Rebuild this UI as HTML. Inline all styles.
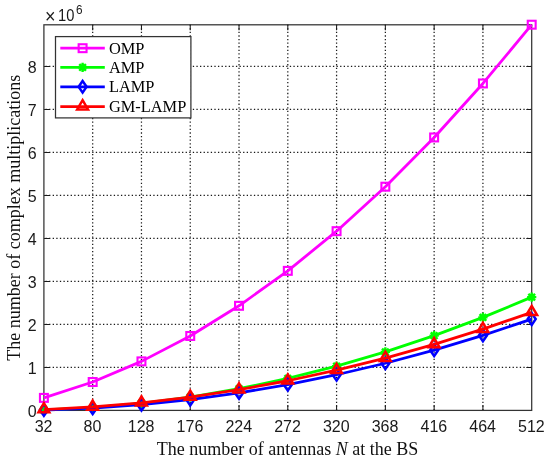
<!DOCTYPE html><html><head><meta charset="utf-8"><style>html,body{margin:0;padding:0;background:#fff;}svg{display:block;}</style></head><body>
<svg width="550" height="459" viewBox="0 0 550 459">
<rect x="0" y="0" width="550" height="459" fill="#fff"/>
<g stroke="#1a1a1a" stroke-width="1.25" stroke-dasharray="1.3 2.293" fill="none"><line x1="92.68" y1="24.56" x2="92.68" y2="410.40"/><line x1="141.46" y1="24.56" x2="141.46" y2="410.40"/><line x1="190.24" y1="24.56" x2="190.24" y2="410.40"/><line x1="239.02" y1="24.56" x2="239.02" y2="410.40"/><line x1="287.80" y1="24.56" x2="287.80" y2="410.40"/><line x1="336.58" y1="24.56" x2="336.58" y2="410.40"/><line x1="385.36" y1="24.56" x2="385.36" y2="410.40"/><line x1="434.14" y1="24.56" x2="434.14" y2="410.40"/><line x1="482.92" y1="24.56" x2="482.92" y2="410.40"/><line x1="45.50" y1="367.41" x2="531.70" y2="367.41"/><line x1="45.50" y1="324.42" x2="531.70" y2="324.42"/><line x1="45.50" y1="281.43" x2="531.70" y2="281.43"/><line x1="45.50" y1="238.44" x2="531.70" y2="238.44"/><line x1="45.50" y1="195.45" x2="531.70" y2="195.45"/><line x1="45.50" y1="152.46" x2="531.70" y2="152.46"/><line x1="45.50" y1="109.47" x2="531.70" y2="109.47"/><line x1="45.50" y1="66.48" x2="531.70" y2="66.48"/></g>
<path d="M92.68 410.40V405.00M92.68 24.80V30.20M141.46 410.40V405.00M141.46 24.80V30.20M190.24 410.40V405.00M190.24 24.80V30.20M239.02 410.40V405.00M239.02 24.80V30.20M287.80 410.40V405.00M287.80 24.80V30.20M336.58 410.40V405.00M336.58 24.80V30.20M385.36 410.40V405.00M385.36 24.80V30.20M434.14 410.40V405.00M434.14 24.80V30.20M482.92 410.40V405.00M482.92 24.80V30.20M43.90 367.41H49.90M531.70 367.41H526.30M43.90 324.42H49.90M531.70 324.42H526.30M43.90 281.43H49.90M531.70 281.43H526.30M43.90 238.44H49.90M531.70 238.44H526.30M43.90 195.45H49.90M531.70 195.45H526.30M43.90 152.46H49.90M531.70 152.46H526.30M43.90 109.47H49.90M531.70 109.47H526.30M43.90 66.48H49.90M531.70 66.48H526.30" stroke="#1a1a1a" stroke-width="1.05" fill="none"/>
<rect x="43.90" y="24.80" width="487.80" height="385.60" stroke="#333" stroke-width="1.25" fill="none"/>
<polyline points="43.90,397.89 92.68,382.02 141.46,361.38 190.24,335.97 239.02,305.80 287.80,270.86 336.58,231.16 385.36,186.69 434.14,137.46 482.92,83.46 531.70,24.70" stroke="#ff00ff" stroke-width="2.8" fill="none" stroke-linejoin="round"/>
<rect x="39.95" y="393.94" width="7.90" height="7.90" stroke="#ff00ff" stroke-width="2.1" fill="none"/><rect x="88.73" y="378.07" width="7.90" height="7.90" stroke="#ff00ff" stroke-width="2.1" fill="none"/><rect x="137.51" y="357.43" width="7.90" height="7.90" stroke="#ff00ff" stroke-width="2.1" fill="none"/><rect x="186.29" y="332.02" width="7.90" height="7.90" stroke="#ff00ff" stroke-width="2.1" fill="none"/><rect x="235.07" y="301.85" width="7.90" height="7.90" stroke="#ff00ff" stroke-width="2.1" fill="none"/><rect x="283.85" y="266.91" width="7.90" height="7.90" stroke="#ff00ff" stroke-width="2.1" fill="none"/><rect x="332.63" y="227.21" width="7.90" height="7.90" stroke="#ff00ff" stroke-width="2.1" fill="none"/><rect x="381.41" y="182.74" width="7.90" height="7.90" stroke="#ff00ff" stroke-width="2.1" fill="none"/><rect x="430.19" y="133.51" width="7.90" height="7.90" stroke="#ff00ff" stroke-width="2.1" fill="none"/><rect x="478.97" y="79.51" width="7.90" height="7.90" stroke="#ff00ff" stroke-width="2.1" fill="none"/><rect x="527.75" y="20.75" width="7.90" height="7.90" stroke="#ff00ff" stroke-width="2.1" fill="none"/>
<polyline points="43.90,409.96 92.68,407.63 141.46,403.32 190.24,397.02 239.02,388.72 287.80,378.44 336.58,366.16 385.36,351.89 434.14,335.63 482.92,317.38 531.70,297.14" stroke="#00ff00" stroke-width="2.8" fill="none" stroke-linejoin="round"/>
<path d="M43.90 406.56V413.36M40.50 409.96H47.30M41.40 407.46L46.40 412.46M41.40 412.46L46.40 407.46" stroke="#00ff00" stroke-width="2.4" fill="none" stroke-linecap="square"/><path d="M92.68 404.23V411.03M89.28 407.63H96.08M90.18 405.13L95.18 410.13M90.18 410.13L95.18 405.13" stroke="#00ff00" stroke-width="2.4" fill="none" stroke-linecap="square"/><path d="M141.46 399.92V406.72M138.06 403.32H144.86M138.96 400.82L143.96 405.82M138.96 405.82L143.96 400.82" stroke="#00ff00" stroke-width="2.4" fill="none" stroke-linecap="square"/><path d="M190.24 393.62V400.42M186.84 397.02H193.64M187.74 394.52L192.74 399.52M187.74 399.52L192.74 394.52" stroke="#00ff00" stroke-width="2.4" fill="none" stroke-linecap="square"/><path d="M239.02 385.32V392.12M235.62 388.72H242.42M236.52 386.22L241.52 391.22M236.52 391.22L241.52 386.22" stroke="#00ff00" stroke-width="2.4" fill="none" stroke-linecap="square"/><path d="M287.80 375.04V381.84M284.40 378.44H291.20M285.30 375.94L290.30 380.94M285.30 380.94L290.30 375.94" stroke="#00ff00" stroke-width="2.4" fill="none" stroke-linecap="square"/><path d="M336.58 362.76V369.56M333.18 366.16H339.98M334.08 363.66L339.08 368.66M334.08 368.66L339.08 363.66" stroke="#00ff00" stroke-width="2.4" fill="none" stroke-linecap="square"/><path d="M385.36 348.49V355.29M381.96 351.89H388.76M382.86 349.39L387.86 354.39M382.86 354.39L387.86 349.39" stroke="#00ff00" stroke-width="2.4" fill="none" stroke-linecap="square"/><path d="M434.14 332.23V339.03M430.74 335.63H437.54M431.64 333.13L436.64 338.13M431.64 338.13L436.64 333.13" stroke="#00ff00" stroke-width="2.4" fill="none" stroke-linecap="square"/><path d="M482.92 313.98V320.78M479.52 317.38H486.32M480.42 314.88L485.42 319.88M480.42 319.88L485.42 314.88" stroke="#00ff00" stroke-width="2.4" fill="none" stroke-linecap="square"/><path d="M531.70 293.74V300.54M528.30 297.14H535.10M529.20 294.64L534.20 299.64M529.20 299.64L534.20 294.64" stroke="#00ff00" stroke-width="2.4" fill="none" stroke-linecap="square"/>
<polyline points="43.90,410.04 92.68,408.17 141.46,404.69 190.24,399.61 239.02,392.93 287.80,384.64 336.58,374.74 385.36,363.24 434.14,350.14 482.92,335.43 531.70,319.12" stroke="#0000ff" stroke-width="2.8" fill="none" stroke-linejoin="round"/>
<path d="M43.90 404.19L47.90 410.04L43.90 415.89L39.90 410.04Z" stroke="#0000ff" stroke-width="2.5" fill="none" stroke-linejoin="miter" stroke-miterlimit="10"/><path d="M92.68 402.32L96.68 408.17L92.68 414.02L88.68 408.17Z" stroke="#0000ff" stroke-width="2.5" fill="none" stroke-linejoin="miter" stroke-miterlimit="10"/><path d="M141.46 398.84L145.46 404.69L141.46 410.54L137.46 404.69Z" stroke="#0000ff" stroke-width="2.5" fill="none" stroke-linejoin="miter" stroke-miterlimit="10"/><path d="M190.24 393.76L194.24 399.61L190.24 405.46L186.24 399.61Z" stroke="#0000ff" stroke-width="2.5" fill="none" stroke-linejoin="miter" stroke-miterlimit="10"/><path d="M239.02 387.08L243.02 392.93L239.02 398.78L235.02 392.93Z" stroke="#0000ff" stroke-width="2.5" fill="none" stroke-linejoin="miter" stroke-miterlimit="10"/><path d="M287.80 378.79L291.80 384.64L287.80 390.49L283.80 384.64Z" stroke="#0000ff" stroke-width="2.5" fill="none" stroke-linejoin="miter" stroke-miterlimit="10"/><path d="M336.58 368.89L340.58 374.74L336.58 380.59L332.58 374.74Z" stroke="#0000ff" stroke-width="2.5" fill="none" stroke-linejoin="miter" stroke-miterlimit="10"/><path d="M385.36 357.39L389.36 363.24L385.36 369.09L381.36 363.24Z" stroke="#0000ff" stroke-width="2.5" fill="none" stroke-linejoin="miter" stroke-miterlimit="10"/><path d="M434.14 344.29L438.14 350.14L434.14 355.99L430.14 350.14Z" stroke="#0000ff" stroke-width="2.5" fill="none" stroke-linejoin="miter" stroke-miterlimit="10"/><path d="M482.92 329.58L486.92 335.43L482.92 341.28L478.92 335.43Z" stroke="#0000ff" stroke-width="2.5" fill="none" stroke-linejoin="miter" stroke-miterlimit="10"/><path d="M531.70 313.27L535.70 319.12L531.70 324.97L527.70 319.12Z" stroke="#0000ff" stroke-width="2.5" fill="none" stroke-linejoin="miter" stroke-miterlimit="10"/>
<polyline points="43.90,409.55 92.68,406.96 141.46,402.78 190.24,397.02 239.02,389.68 287.80,380.75 336.58,370.23 385.36,358.13 434.14,344.44 482.92,329.17 531.70,312.32" stroke="#ff0000" stroke-width="2.8" fill="none" stroke-linejoin="round"/>
<path d="M43.90 403.15L49.30 412.35L38.50 412.35Z" stroke="#ff0000" stroke-width="2.5" fill="none" stroke-linejoin="miter" stroke-miterlimit="10"/><path d="M92.68 400.56L98.08 409.76L87.28 409.76Z" stroke="#ff0000" stroke-width="2.5" fill="none" stroke-linejoin="miter" stroke-miterlimit="10"/><path d="M141.46 396.38L146.86 405.58L136.06 405.58Z" stroke="#ff0000" stroke-width="2.5" fill="none" stroke-linejoin="miter" stroke-miterlimit="10"/><path d="M190.24 390.62L195.64 399.82L184.84 399.82Z" stroke="#ff0000" stroke-width="2.5" fill="none" stroke-linejoin="miter" stroke-miterlimit="10"/><path d="M239.02 383.28L244.42 392.48L233.62 392.48Z" stroke="#ff0000" stroke-width="2.5" fill="none" stroke-linejoin="miter" stroke-miterlimit="10"/><path d="M287.80 374.35L293.20 383.55L282.40 383.55Z" stroke="#ff0000" stroke-width="2.5" fill="none" stroke-linejoin="miter" stroke-miterlimit="10"/><path d="M336.58 363.83L341.98 373.03L331.18 373.03Z" stroke="#ff0000" stroke-width="2.5" fill="none" stroke-linejoin="miter" stroke-miterlimit="10"/><path d="M385.36 351.73L390.76 360.93L379.96 360.93Z" stroke="#ff0000" stroke-width="2.5" fill="none" stroke-linejoin="miter" stroke-miterlimit="10"/><path d="M434.14 338.04L439.54 347.24L428.74 347.24Z" stroke="#ff0000" stroke-width="2.5" fill="none" stroke-linejoin="miter" stroke-miterlimit="10"/><path d="M482.92 322.77L488.32 331.97L477.52 331.97Z" stroke="#ff0000" stroke-width="2.5" fill="none" stroke-linejoin="miter" stroke-miterlimit="10"/><path d="M531.70 305.92L537.10 315.12L526.30 315.12Z" stroke="#ff0000" stroke-width="2.5" fill="none" stroke-linejoin="miter" stroke-miterlimit="10"/>
<rect x="55.5" y="36.6" width="135.40" height="81.30" fill="#fff" stroke="#333" stroke-width="1.25"/>
<line x1="60.3" y1="48.2" x2="104.8" y2="48.2" stroke="#ff00ff" stroke-width="2.8"/>
<rect x="78.65" y="44.25" width="7.90" height="7.90" stroke="#ff00ff" stroke-width="2.1" fill="none"/>
<text x="108.9" y="53.70" font-family="Liberation Serif, serif" font-size="16.4" fill="#000">OMP</text>
<line x1="60.3" y1="67.4" x2="104.8" y2="67.4" stroke="#00ff00" stroke-width="2.8"/>
<path d="M82.60 64.00V70.80M79.20 67.40H86.00M80.10 64.90L85.10 69.90M80.10 69.90L85.10 64.90" stroke="#00ff00" stroke-width="2.4" fill="none" stroke-linecap="square"/>
<text x="108.9" y="72.90" font-family="Liberation Serif, serif" font-size="16.4" fill="#000">AMP</text>
<line x1="60.3" y1="86.8" x2="104.8" y2="86.8" stroke="#0000ff" stroke-width="2.8"/>
<path d="M82.60 80.95L86.60 86.80L82.60 92.65L78.60 86.80Z" stroke="#0000ff" stroke-width="2.5" fill="none" stroke-linejoin="miter" stroke-miterlimit="10"/>
<text x="108.9" y="92.30" font-family="Liberation Serif, serif" font-size="16.4" fill="#000">LAMP</text>
<line x1="60.3" y1="106.6" x2="104.8" y2="106.6" stroke="#ff0000" stroke-width="2.8"/>
<path d="M82.60 100.20L88.00 109.40L77.20 109.40Z" stroke="#ff0000" stroke-width="2.5" fill="none" stroke-linejoin="miter" stroke-miterlimit="10"/>
<text x="108.9" y="112.10" font-family="Liberation Serif, serif" font-size="16.4" fill="#000">GM-LAMP</text>
<text transform="translate(43.60,432) scale(1,1.0)" text-anchor="middle" font-family="Liberation Sans, sans-serif" font-size="16" fill="#1a1a1a">32</text>
<text transform="translate(92.38,432) scale(1,1.0)" text-anchor="middle" font-family="Liberation Sans, sans-serif" font-size="16" fill="#1a1a1a">80</text>
<text transform="translate(141.16,432) scale(1,1.0)" text-anchor="middle" font-family="Liberation Sans, sans-serif" font-size="16" fill="#1a1a1a">128</text>
<text transform="translate(189.94,432) scale(1,1.0)" text-anchor="middle" font-family="Liberation Sans, sans-serif" font-size="16" fill="#1a1a1a">176</text>
<text transform="translate(238.72,432) scale(1,1.0)" text-anchor="middle" font-family="Liberation Sans, sans-serif" font-size="16" fill="#1a1a1a">224</text>
<text transform="translate(287.50,432) scale(1,1.0)" text-anchor="middle" font-family="Liberation Sans, sans-serif" font-size="16" fill="#1a1a1a">272</text>
<text transform="translate(336.28,432) scale(1,1.0)" text-anchor="middle" font-family="Liberation Sans, sans-serif" font-size="16" fill="#1a1a1a">320</text>
<text transform="translate(385.06,432) scale(1,1.0)" text-anchor="middle" font-family="Liberation Sans, sans-serif" font-size="16" fill="#1a1a1a">368</text>
<text transform="translate(433.84,432) scale(1,1.0)" text-anchor="middle" font-family="Liberation Sans, sans-serif" font-size="16" fill="#1a1a1a">416</text>
<text transform="translate(482.62,432) scale(1,1.0)" text-anchor="middle" font-family="Liberation Sans, sans-serif" font-size="16" fill="#1a1a1a">464</text>
<text transform="translate(531.40,432) scale(1,1.0)" text-anchor="middle" font-family="Liberation Sans, sans-serif" font-size="16" fill="#1a1a1a">512</text>
<text transform="translate(36.6,416.90) scale(1,1.0)" text-anchor="end" font-family="Liberation Sans, sans-serif" font-size="16" fill="#1a1a1a">0</text>
<text transform="translate(36.6,373.91) scale(1,1.0)" text-anchor="end" font-family="Liberation Sans, sans-serif" font-size="16" fill="#1a1a1a">1</text>
<text transform="translate(36.6,330.92) scale(1,1.0)" text-anchor="end" font-family="Liberation Sans, sans-serif" font-size="16" fill="#1a1a1a">2</text>
<text transform="translate(36.6,287.93) scale(1,1.0)" text-anchor="end" font-family="Liberation Sans, sans-serif" font-size="16" fill="#1a1a1a">3</text>
<text transform="translate(36.6,244.94) scale(1,1.0)" text-anchor="end" font-family="Liberation Sans, sans-serif" font-size="16" fill="#1a1a1a">4</text>
<text transform="translate(36.6,201.95) scale(1,1.0)" text-anchor="end" font-family="Liberation Sans, sans-serif" font-size="16" fill="#1a1a1a">5</text>
<text transform="translate(36.6,158.96) scale(1,1.0)" text-anchor="end" font-family="Liberation Sans, sans-serif" font-size="16" fill="#1a1a1a">6</text>
<text transform="translate(36.6,115.97) scale(1,1.0)" text-anchor="end" font-family="Liberation Sans, sans-serif" font-size="16" fill="#1a1a1a">7</text>
<text transform="translate(36.6,72.98) scale(1,1.0)" text-anchor="end" font-family="Liberation Sans, sans-serif" font-size="16" fill="#1a1a1a">8</text>
<text transform="translate(45,20.9) scale(1,1.13)" font-family="Liberation Sans, sans-serif" font-size="14.7" fill="#1a1a1a"><tspan font-size="18" dy="1.9">×</tspan><tspan dx="2.6" dy="-1.9">10</tspan><tspan dx="1.6" dy="-6.5" font-size="11.8">6</tspan></text>
<text x="287.5" y="454.5" text-anchor="middle" font-family="Liberation Serif, serif" font-size="18" fill="#111">The number of antennas <tspan font-style="italic">N</tspan> at the BS</text>
<text transform="translate(20.1,217.8) rotate(-90)" text-anchor="middle" font-family="Liberation Serif, serif" font-size="18" fill="#111">The number of complex multiplications</text>
</svg></body></html>
